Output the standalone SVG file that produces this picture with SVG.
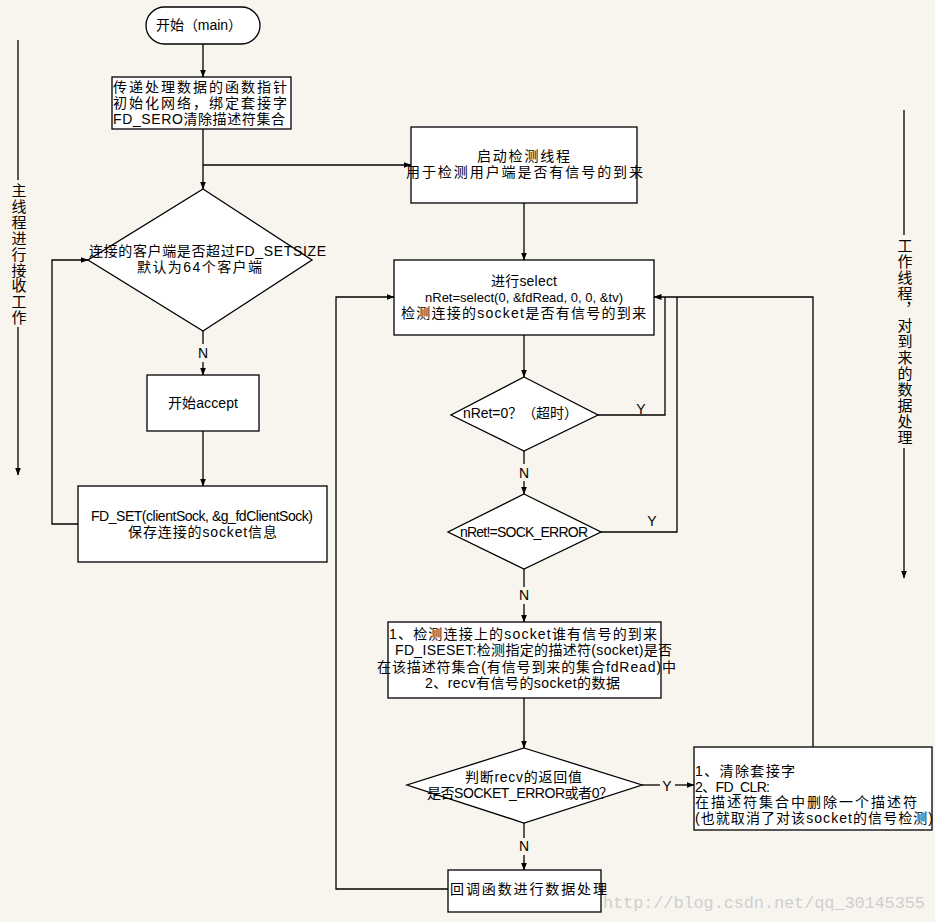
<svg xmlns="http://www.w3.org/2000/svg" width="935" height="922" viewBox="0 0 935 922">
<defs>
<marker id="ah" viewBox="0 0 8 8" refX="7.5" refY="4" markerWidth="8" markerHeight="8" markerUnits="userSpaceOnUse" orient="auto">
<path d="M0,1 L8,4 L0,7 z" fill="#000"/>
</marker>
<style>
.bg{fill:#F8F5EF}
.n{fill:#fff;stroke:#000;stroke-width:1.3}
.c{fill:none;stroke:#000;stroke-width:1.3}
.a{fill:none;stroke:#000;stroke-width:1.3;marker-end:url(#ah)}
text{font-family:"Liberation Sans","Noto Sans CJK SC",sans-serif;font-size:14px;fill:#000}
.s{font-size:13px}
.lbl{font-size:14px;text-anchor:middle}
.v{writing-mode:vertical-rl;text-orientation:upright;font-size:15px}
.wm{font-family:"Liberation Mono",monospace;font-size:17px;fill:#cfcfcf}
</style>
</defs>
<rect class="bg" x="0" y="0" width="935" height="922"/>

<g id="connectors">
<path class="a" d="M203,44 V77"/>
<path class="a" d="M203,129 V189"/>
<path class="a" d="M203,165 H411"/>
<path class="c" d="M203,331 V344"/>
<path class="a" d="M203,362 V375"/>
<path class="a" d="M203,431 V486"/>
<path class="a" d="M78,524 H52 V260 H88"/>
<path class="a" d="M524,203 V260"/>
<path class="a" d="M524,335 V377"/>
<path class="c" d="M598,415 H665 V297"/>
<path class="c" d="M524,451 V464"/>
<path class="a" d="M524,481 V494"/>
<path class="c" d="M601,532 H677 V297"/>
<path class="c" d="M524,569 V587"/>
<path class="a" d="M524,604 V622"/>
<path class="a" d="M524,698 V748"/>
<path class="c" d="M642,785 H660"/>
<path class="a" d="M675,785 H694"/>
<path class="c" d="M524,823 V838"/>
<path class="a" d="M524,855 V870"/>
<path class="a" d="M448,889 H336 V297 H394"/>
<path class="a" d="M813,747 V297 H654"/>
<text class="lbl" x="203" y="358">N</text>
<text class="lbl" x="641" y="414">Y</text>
<text class="lbl" x="524" y="478">N</text>
<text class="lbl" x="652" y="526">Y</text>
<text class="lbl" x="524" y="600">N</text>
<text class="lbl" x="667" y="791">Y</text>
<text class="lbl" x="524" y="851">N</text>
</g>

<g id="start">
<rect class="n" x="146" y="7" width="114" height="37" rx="18.5"/>
<text x="156" y="30" textLength="86">开始（main）</text>
</g>

<g id="init">
<rect class="n" x="112" y="77" width="179" height="52"/>
<text x="113" y="92" textLength="174">传递处理数据的函数指针</text>
<text x="113" y="108" textLength="174">初始化网络，绑定套接字</text>
<text x="113" y="124" textLength="172">FD_SERO清除描述符集合</text>
</g>

<g id="check-setsize">
<path class="n" d="M203,189 L312,260 L203,331 L88,260 Z"/>
<text x="89" y="256" textLength="237">连接的客户端是否超过FD_SETSIZE</text>
<text x="137" y="272" textLength="125">默认为64个客户端</text>
</g>

<g id="accept">
<rect class="n" x="147" y="375" width="112" height="56"/>
<text x="168" y="408" textLength="70">开始accept</text>
</g>

<g id="fdset">
<rect class="n" x="78" y="486" width="249" height="76"/>
<text x="91" y="521" textLength="222">FD_SET(clientSock, &amp;g_fdClientSock)</text>
<text x="128" y="537" textLength="149">保存连接的socket信息</text>
</g>

<g id="thread">
<rect class="n" x="411" y="127" width="226" height="76"/>
<text x="477" y="161" textLength="93">启动检测线程</text>
<text x="406" y="177" textLength="237">用于检测用户端是否有信号的到来</text>
</g>

<g id="select">
<rect class="n" x="394" y="260" width="260" height="75"/>
<text x="491" y="286" textLength="66">进行select</text>
<text class="s" x="425" y="302" textLength="198">nRet=select(0, &amp;fdRead, 0, 0, &amp;tv)</text>
<text x="401" y="318" textLength="245">检测连接的socket是否有信号的到来</text>
</g>

<g id="timeout">
<path class="n" d="M524,377 L598,415 L524,451 L451,415 Z"/>
<text x="463" y="418" textLength="115">nRet=0？（超时）</text>
</g>

<g id="sockerror">
<path class="n" d="M524,494 L601,532 L524,569 L448,532 Z"/>
<text x="460" y="537" textLength="128">nRet!=SOCK_ERROR</text>
</g>

<g id="detect">
<rect class="n" x="388" y="622" width="273" height="76"/>
<text x="389" y="639" textLength="268">1、检测连接上的socket谁有信号的到来</text>
<text x="395" y="655" textLength="277">FD_ISESET:检测指定的描述符(socket)是否</text>
<text x="377" y="672" textLength="299">在该描述符集合(有信号到来的集合fdRead)中</text>
<text x="425" y="688" textLength="195">2、recv有信号的socket的数据</text>
</g>

<g id="recv-check">
<path class="n" d="M524,748 L642,785 L524,823 L407,785 Z"/>
<text x="465" y="782" textLength="117">判断recv的返回值</text>
<text x="427" y="798" textLength="186">是否SOCKET_ERROR或者0？</text>
</g>

<g id="clear">
<rect class="n" x="694" y="747" width="238" height="83"/>
<text x="695" y="776" textLength="100">1、清除套接字</text>
<text x="695" y="792" textLength="75">2、FD_CLR:</text>
<text x="695" y="807" textLength="222">在描述符集合中删除一个描述符</text>
<text x="695" y="823" textLength="238">(也就取消了对该socket的信号检测)</text>
</g>

<g id="callback">
<rect class="n" x="448" y="870" width="153" height="42"/>
<text x="450" y="894" textLength="157">回调函数进行数据处理</text>
</g>

<g id="main-thread-note">
<path class="c" d="M18,40 V180"/>
<path class="a" d="M18,327 V475"/>
<text class="v" x="18" y="183" textLength="142">主线程进行接收工作</text>
</g>

<g id="work-thread-note">
<path class="c" d="M904,110 V235"/>
<path class="a" d="M904,448 V578"/>
<text class="v" x="904" y="238" textLength="207">工作线程，对到来的数据处理</text>
</g>

<text class="wm" x="603" y="908" textLength="322">http://blog.csdn.net/qq_30145355</text>
</svg>
